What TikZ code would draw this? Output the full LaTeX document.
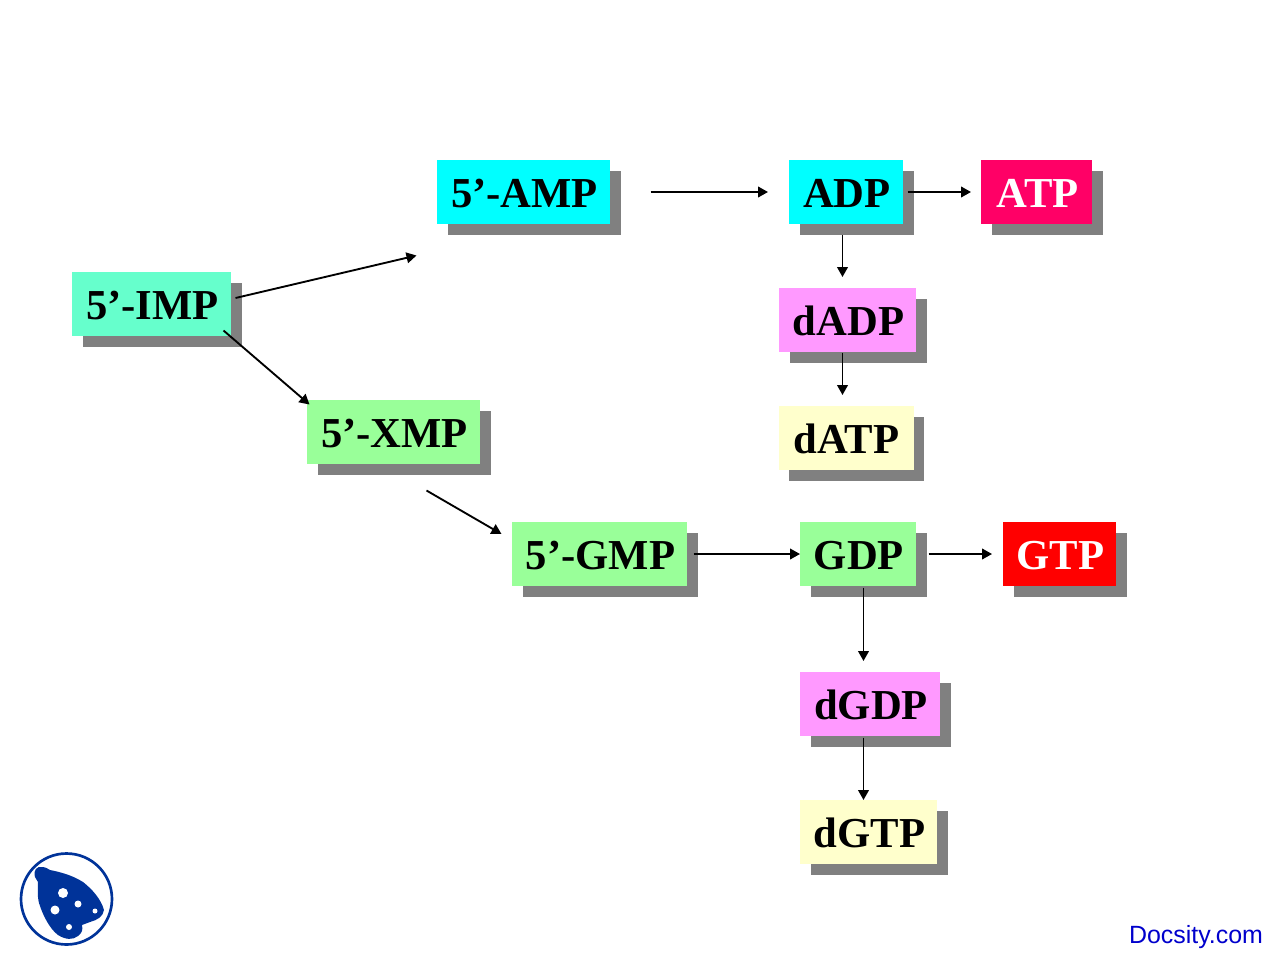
\documentclass[tikz,border=0pt]{standalone}
\usepackage{fontspec}
\setmainfont{Liberation Serif}
\newfontfamily\docsityfont{Liberation Sans}
\usetikzlibrary{arrows.meta,shadows}
\definecolor{impgreen}{HTML}{66FFCC}
\definecolor{ampcyan}{HTML}{00FFFF}
\definecolor{xmpgreen}{HTML}{99FF99}
\definecolor{atpred}{HTML}{FF0066}
\definecolor{gtpred}{HTML}{FF0000}
\definecolor{dpink}{HTML}{FF99FF}
\definecolor{dyellow}{HTML}{FFFFCC}
\definecolor{logoblue}{HTML}{003399}
\definecolor{linkblue}{HTML}{0000CC}
\tikzset{every picture/.style={line width=0.75pt}}
\tikzset{
	mol/.style 2 args={fill=#2,inner sep=0pt,minimum width=#1*0.75pt,minimum height=48pt,
		font=\fontsize{32}{32}\selectfont\bfseries,text height=22.5pt,text depth=0pt,
		execute at begin node=\hskip1.5pt,
		drop shadow={shadow xshift=7.9pt,shadow yshift=-7.9pt,fill=black!50,opacity=1}},
	link/.style={-{Triangle[length=7.5pt,width=8pt]},line width=1.4pt}
}

\begin{document}
\begin{tikzpicture}[x=0.75pt,y=0.75pt,yscale=-1,xscale=1]
	\useasboundingbox (0,0) rectangle (1280,960);

	% Text Node
	\node [mol={159}{impgreen}] (imp) at (151.5,304) {5’-IMP};
	\node [mol={173}{ampcyan}] (amp) at (523.5,192) {5’-AMP};
	\node [mol={114}{ampcyan}] (adp) at (846,192) {ADP};
	\node [mol={111}{atpred},text=white,execute at begin node=] (atp) at (1036.5,192) {ATP};
	\node [mol={137}{dpink}] (dadp) at (847.5,320) {dADP};
	\node [mol={135}{dyellow},execute at begin node=,execute at end node=\hskip1.5pt] (datp) at (846.3,438) {dATP};
	\node [mol={173}{xmpgreen}] (xmp) at (393.5,432) {5’-XMP};
	\node [mol={175}{xmpgreen}] (gmp) at (599.5,554) {5’-GMP};
	\node [mol={116}{xmpgreen}] (gdp) at (858,554) {GDP};
	\node [mol={113}{gtpred},text=white] (gtp) at (1059.5,554) {GTP};
	\node [mol={140}{dpink}] (dgdp) at (870,704) {dGDP};
	\node [mol={137}{dyellow}] (dgtp) at (868.5,832) {dGTP};

	%Straight Lines
	\draw [link] ([shift={(4,-6)}]imp.east) -- ([shift={(-20,31)}]amp.south west);
	\draw [link] ([shift={(-8,-6)}]imp.south east) -- ([shift={(3,5)}]xmp.north west);
	\draw [link] ([shift={(-54,26)}]xmp.south east) -- ([shift={(-10,-20)}]gmp.west);
	\draw [link] ([shift={(40,0)}]amp.east) -- ([shift={(-20.5,0)}]adp.west);
	\draw [link] ([shift={(4,0)}]adp.east) -- ([shift={(-9.5,0)}]atp.west);
	\draw [link] ([shift={(-3.5,10)}]adp.south) -- ([shift={(-5,-10.5)}]dadp.north);
	\draw [link] ([shift={(-5,0)}]dadp.south) -- ([shift={(-3.8,-10.5)}]datp.north);
	\draw [link] ([shift={(6,0)}]gmp.east) -- ([shift={(0.5,0)}]gdp.west);
	\draw [link] ([shift={(12,0)}]gdp.east) -- ([shift={(-10.5,0)}]gtp.west);
	\draw [link] ([shift={(5.5,1)}]gdp.south) -- ([shift={(-6.5,-10.5)}]dgdp.north);
	\draw [link] ([shift={(-6.5,1)}]dgdp.south) -- ([shift={(-5,0.5)}]dgtp.north);

	%Shape: Logo
	\draw [logoblue,line width=2pt] (66.5,899) circle [radius=45.5];
	\fill [logoblue] (35,877) .. controls (33,870) and (37,866) .. (42,867) .. controls (46,867) and (48,869) .. (50,870) .. controls (60,872) and (72,875) .. (83,882) .. controls (92,889) and (101,899) .. (104,910) .. controls (103,917) and (97,920) .. (90,922) -- (82,925) .. controls (83,930) and (82,933) .. (78,936) .. controls (73,940) and (66,940) .. (58,935) .. controls (50,929) and (43,916) .. (39,903) .. controls (37,895) and (38,886) .. (38,882) -- cycle;
	\fill [white] (63,893) circle [radius=5] (55,910) circle [radius=4.5] (78,904) circle [radius=3.5] (95,911) circle [radius=2.5] (69,927) circle [radius=3];

	% Text Node
	\node [text=linkblue,font=\docsityfont\fontsize{18.7}{20}\selectfont,inner sep=0pt] (docsity) at (1196,937) {Docsity.com};

\end{tikzpicture}
\end{document}
